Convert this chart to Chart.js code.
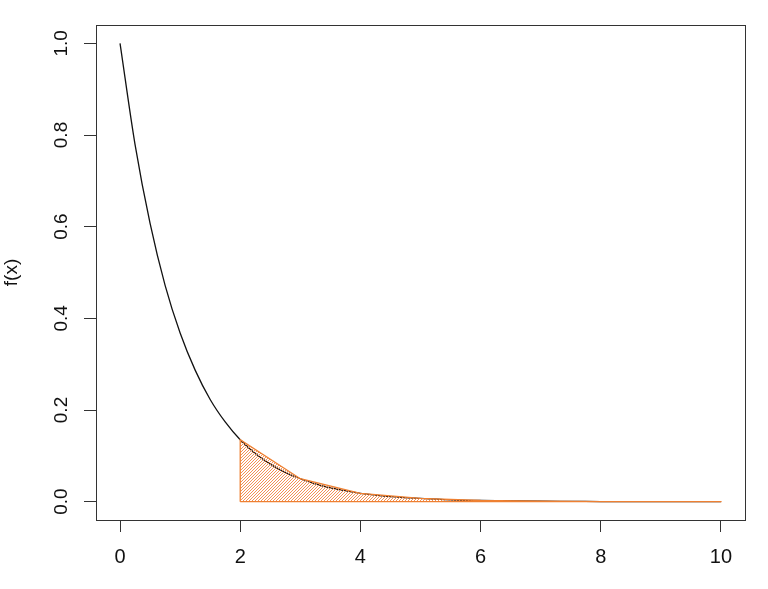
<!DOCTYPE html>
<html>
<head>
<meta charset="utf-8">
<script src="https://cdn.jsdelivr.net/npm/chart.js@4/dist/chart.umd.min.js"></script>
<style>
  html, body { margin: 0; padding: 0; background: #fff; }
  canvas { display: block; }
</style>
</head>
<body>
<canvas id="grafico" width="768" height="589"></canvas>
<script>
// curva f(x)
const curvaX = [0, 0.25, 0.5, 0.75, 1, 1.25, 1.5, 1.75, 2, 2.25, 2.5, 2.75, 3, 3.25, 3.5, 3.75, 4,
    4.5, 5, 5.5, 6, 6.5, 7, 7.5, 8, 8.5, 9, 9.5, 10]
const curvaY = [1.0, 0.779, 0.607, 0.472, 0.368, 0.287, 0.223, 0.174, 0.135, 0.105, 0.082, 0.064, 0.050, 0.039, 0.030, 0.024, 0.018,
    0.011, 0.007, 0.004, 0.0025, 0.0015, 0.0009, 0.0006, 0.0003, 0.0002, 0.0001, 0.0001, 0.00005]

// area hachurada (poligono)
const areaX = [2, 3, 4, 5, 6, 7, 8, 9, 10]
const areaY = [0.135, 0.050, 0.018, 0.007, 0.0025, 0.0009, 0.0003, 0.0001, 0.00005]

const ticksX = [0, 2, 4, 6, 8, 10]
const ticksY = [0, 0.2, 0.4, 0.6, 0.8, 1.0]
const rotulosY = ['0.0', '0.2', '0.4', '0.6', '0.8', '1.0']

const corLaranja = 'rgb(238, 128, 50)'
const corHachura = 'rgb(244, 145, 85)'
const corEixo = '#333333'
const fonte = '"Liberation Sans", Arial, Helvetica, sans-serif'

const pontosCurva = curvaX.map((x, i) => ({ x: x, y: curvaY[i] }))
const pontosArea = [{ x: areaX[0], y: 0 }]
    .concat(areaX.map((x, i) => ({ x: x, y: areaY[i] })))
    .concat([{ x: areaX[areaX.length - 1], y: 0 }, { x: areaX[0], y: 0 }])

// hachura diagonal dentro do poligono (como density do R)
const hachura = {
    id: 'hachura',
    beforeDatasetDraw(chart, args) {
        if (args.index !== 0) return
        const pts = chart.getDatasetMeta(0).data
        if (!pts.length) return
        const ctx = chart.ctx
        ctx.save()
        ctx.beginPath()
        pts.forEach((p, i) => i === 0 ? ctx.moveTo(p.x, p.y) : ctx.lineTo(p.x, p.y))
        ctx.closePath()
        ctx.clip()
        let minX = Infinity, maxX = -Infinity, minY = Infinity, maxY = -Infinity
        pts.forEach(p => {
            minX = Math.min(minX, p.x); maxX = Math.max(maxX, p.x)
            minY = Math.min(minY, p.y); maxY = Math.max(maxY, p.y)
        })
        ctx.strokeStyle = corHachura
        ctx.lineWidth = 1
        ctx.beginPath()
        const passo = 3
        const h = maxY - minY
        for (let x0 = minX - h - passo; x0 <= maxX + passo; x0 += passo) {
            ctx.moveTo(x0, maxY + 1)
            ctx.lineTo(x0 + h + 2, minY - 1)
        }
        ctx.stroke()
        ctx.restore()
    }
}

// caixa e rotulos do eixo y no estilo do R
const estiloR = {
    id: 'estiloR',
    afterDraw(chart) {
        const ctx = chart.ctx
        const a = chart.chartArea
        ctx.save()
        ctx.strokeStyle = corEixo
        ctx.lineWidth = 1
        ctx.strokeRect(Math.round(a.left) + 0.5, Math.round(a.top) + 0.5,
            Math.round(a.right - a.left), Math.round(a.bottom - a.top))
        ctx.fillStyle = '#111'
        ctx.font = '19px ' + fonte
        ctx.textAlign = 'center'
        ctx.textBaseline = 'alphabetic'
        const escalaY = chart.scales.y
        ticksY.forEach((v, i) => {
            const py = escalaY.getPixelForValue(v)
            ctx.save()
            ctx.translate(66.5, py)
            ctx.rotate(-Math.PI / 2)
            ctx.fillText(rotulosY[i], 0, 0)
            ctx.restore()
        })
        ctx.restore()
    }
}

let graficoDensidade = new Chart(
    document.getElementById('grafico'), {
    type: 'line',
    data: {
        datasets: [{
            label: 'area',
            data: pontosArea,
            borderColor: corLaranja,
            borderWidth: 1.3,
            backgroundColor: 'rgba(0,0,0,0)',
            fill: false,
            pointRadius: 0,
            tension: 0,
            order: 0
        }, {
            label: 'f(x)',
            data: pontosCurva,
            borderColor: '#111111',
            borderWidth: 1.3,
            fill: false,
            pointRadius: 0,
            cubicInterpolationMode: 'monotone',
            order: 1
        }]
    },
    options: {
        responsive: false,
        animation: false,
        devicePixelRatio: 1,
        parsing: false,
        layout: { padding: { top: 25, right: 23, left: 0, bottom: 0 } },
        plugins: {
            legend: { display: false },
            tooltip: { enabled: false }
        },
        scales: {
            x: {
                type: 'linear',
                min: -0.4,
                max: 10.4,
                afterBuildTicks: (scale) => { scale.ticks = ticksX.map(v => ({ value: v })) },
                afterFit: (scale) => { scale.height = 69 },
                border: { display: false },
                grid: { drawOnChartArea: false, drawTicks: true, tickLength: 12, color: corEixo, lineWidth: 1 },
                ticks: {
                    color: '#111',
                    font: { family: fonte, size: 20 },
                    padding: 13,
                    maxRotation: 0,
                    autoSkip: false,
                    callback: (v) => String(v)
                }
            },
            y: {
                type: 'linear',
                min: -0.04,
                max: 1.04,
                afterBuildTicks: (scale) => { scale.ticks = ticksY.map(v => ({ value: v })) },
                afterFit: (scale) => { scale.width = 96 },
                border: { display: false },
                grid: { drawOnChartArea: false, drawTicks: true, tickLength: 12, color: corEixo, lineWidth: 1 },
                ticks: { display: false },
                title: {
                    display: true,
                    text: 'f(x)',
                    color: '#111',
                    font: { family: fonte, size: 19 },
                    padding: { top: 0, bottom: 0 }
                }
            }
        }
    },
    plugins: [hachura, estiloR]
}
)
</script>
</body>
</html>
